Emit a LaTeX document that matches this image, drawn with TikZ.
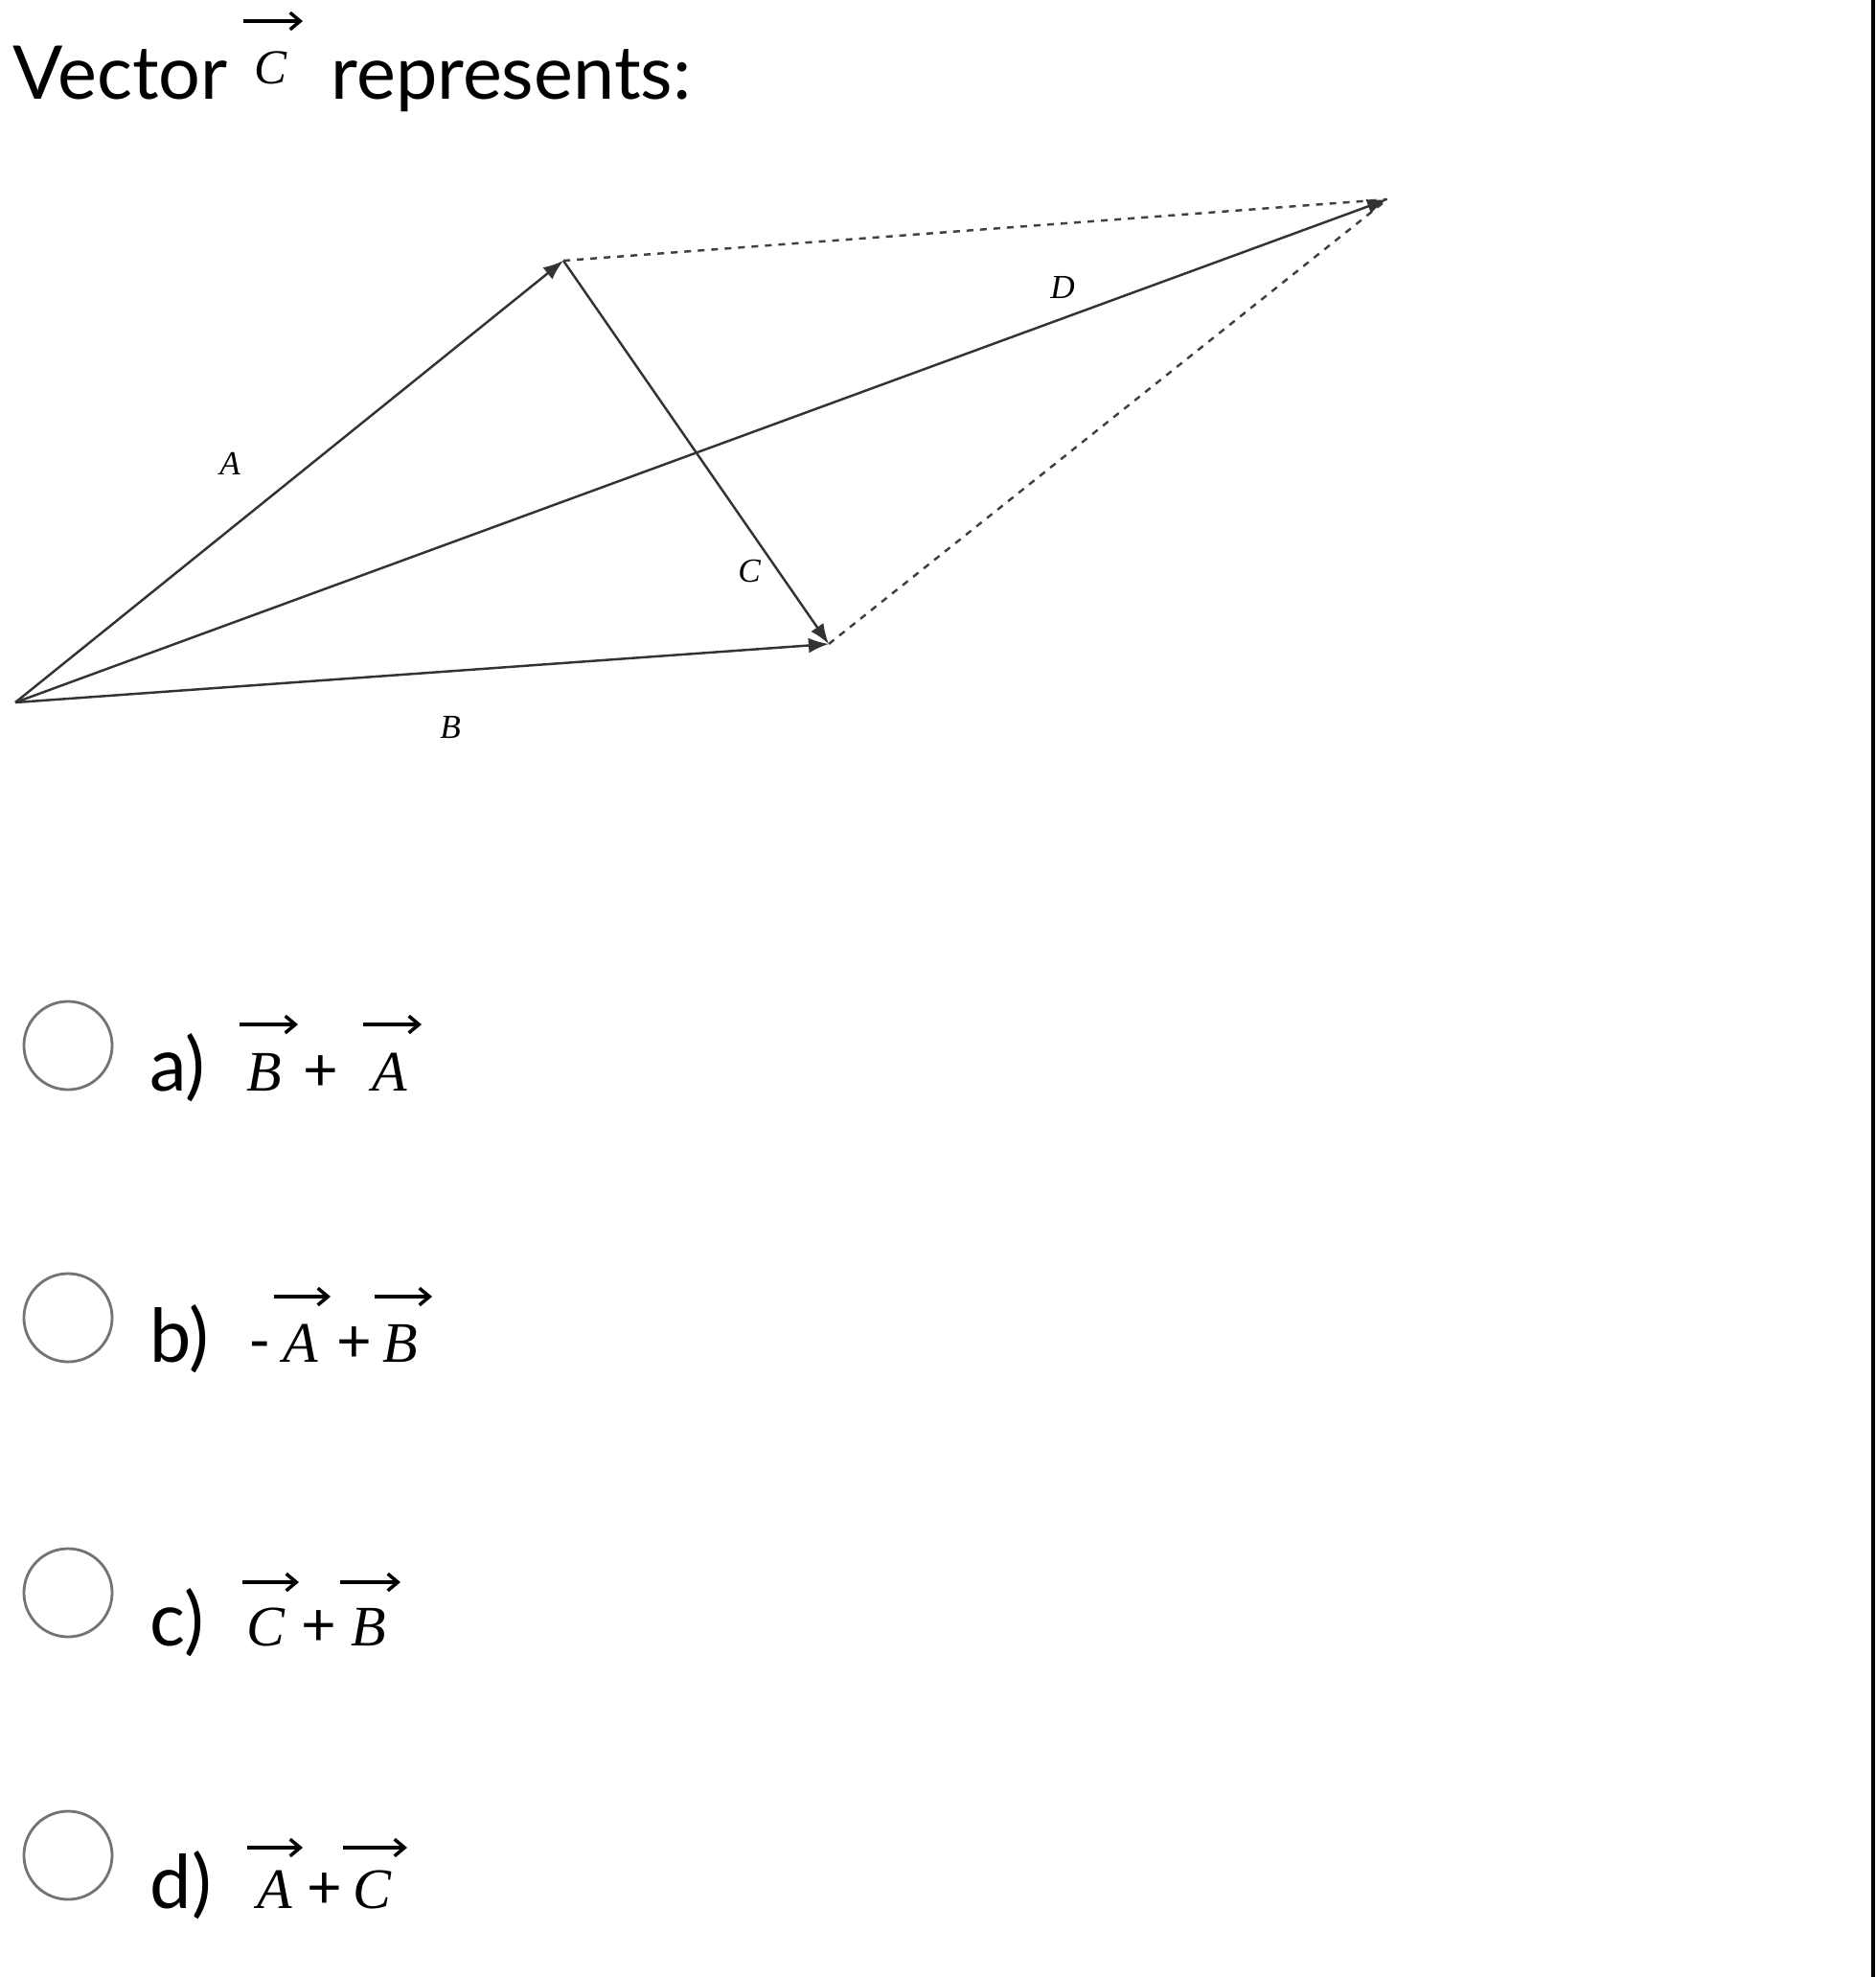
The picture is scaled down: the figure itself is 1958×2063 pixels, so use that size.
\documentclass[tikz,border=0pt]{standalone}
\usepackage{fontspec}
\setmainfont{Lato}
\newfontfamily\vecfont{Liberation Serif}
\usetikzlibrary{arrows.meta}
\tikzset{
    vecline/.style={draw=black!80, line width=0.7pt,
        -{Latex[length=6pt, width=4.5pt]}},
    helpline/.style={draw=black!75, line width=0.7pt,
        dash pattern=on 2pt off 2pt},
    veclabel/.style={font=\vecfont\itshape\fontsize{10}{12}\selectfont},
    bigtext/.style={anchor=base west, inner sep=0pt,
        font=\fontsize{22}{26}\selectfont},
    optletter/.style={anchor=base west, inner sep=0pt,
        font=\vecfont\itshape\fontsize{17}{20}\selectfont},
    optsign/.style={anchor=base west, inner sep=0pt,
        font=\fontsize{18}{20}\selectfont},
    optarrow/.style={line width=1pt,
        -{Straight Barb[length=3pt, width=5pt]}},
    optcircle/.style={circle, draw=black!55, line width=0.8pt,
        minimum size=0.92cm, inner sep=0pt},
}

\begin{document}
\begin{tikzpicture}[x=0.01cm, y=-0.01cm]
    \useasboundingbox (0, 0) rectangle (1958, 2063);
    \draw[line width=0.9pt] (1955, 0) -- (1955, 2063);
    % question
    \node (title) [bigtext] at (13, 103) {Vector};
    \node (titleC) [optletter, font=\vecfont\itshape\fontsize{14.5}{17}\selectfont]
        at (265, 87) {C};
    \draw[optarrow] (254, 22) -- (316, 22);
    \node (titlerest) [bigtext] at (345, 103) {represents:};
    % the vectors
    \coordinate (O) at (16, 733);
    \coordinate (P) at (588, 272);
    \coordinate (Q) at (865, 672);
    \coordinate (R) at (1448, 208);
    \draw[helpline] (P) -- (R);
    \draw[helpline] (Q) -- (R);
    \draw[vecline] (O) -- (P);
    \draw[vecline] (O) -- (Q);
    \draw[vecline] (O) -- (R);
    \draw[vecline] (P) -- (Q);
    \node (labA) [veclabel] at (240, 484) {A};
    \node (labB) [veclabel] at (470, 759) {B};
    \node (labC) [veclabel] at (782, 596) {C};
    \node (labD) [veclabel] at (1109, 300) {D};
    % answer choices
    \foreach \opt/\cy/\by in {a/1091/1138, b/1375/1421, c/1662/1717,
            d/1936/1991} {
        \node (circ\opt) [optcircle] at (71, \cy) {};
        \node (lab\opt) [bigtext] at (156, \by) {\opt)};
    }
    % a)
    \node (aB) [optletter] at (257, 1138) {B};
    \node (aplus) [optsign] at (316, 1138) {+};
    \node (aA) [optletter] at (388, 1138) {A};
    \draw[optarrow] (250, 1069) -- (311, 1069);
    \draw[optarrow] (379, 1069) -- (440, 1069);
    % b)
    \node (bminus) [optsign] at (259, 1421) {-};
    \node (bA) [optletter] at (295, 1421) {A};
    \node (bplus) [optsign] at (351, 1421) {+};
    \node (bB) [optletter] at (399, 1421) {B};
    \draw[optarrow] (286, 1353) -- (345, 1353);
    \draw[optarrow] (391, 1353) -- (451, 1353);
    % c)
    \node (cC) [optletter] at (257, 1717) {C};
    \node (cplus) [optsign] at (314, 1717) {+};
    \node (cB) [optletter] at (366, 1717) {B};
    \draw[optarrow] (253, 1651) -- (312, 1651);
    \draw[optarrow] (355, 1651) -- (418, 1651);
    % d)
    \node (dA) [optletter] at (268, 1991) {A};
    \node (dplus) [optsign] at (320, 1991) {+};
    \node (dC) [optletter] at (368, 1991) {C};
    \draw[optarrow] (258, 1928) -- (316, 1928);
    \draw[optarrow] (358, 1928) -- (425, 1928);
\end{tikzpicture}
\end{document}
